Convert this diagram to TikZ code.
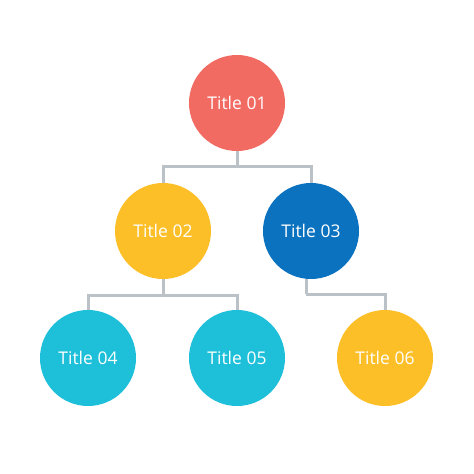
\documentclass[tikz,border=0pt]{standalone}
\usepackage{fontspec}
\setmainfont{Open Sans}
\definecolor{cred}{HTML}{F26B63}
\definecolor{cyel}{HTML}{FDBF28}
\definecolor{cblue}{HTML}{0B72BF}
\definecolor{ccyan}{HTML}{1DBFD9}
\definecolor{cline}{HTML}{BAC1C7}
\tikzset{
  bubble/.style={circle, minimum size=96pt, inner sep=0pt, text=white, font=\fontsize{17.5}{20}\selectfont},
  link/.style={draw=cline, line width=3pt}
}
\begin{document}
\begin{tikzpicture}[x=1pt,y=-1pt]
\useasboundingbox[fill=white] (0,0) rectangle (474,474);
\node[bubble, fill=cred] (c1) at (237,103) {Title 01};
\node[bubble, fill=cyel] (c2) at (163,231) {Title 02};
\node[bubble, fill=cblue] (c3) at (311,231) {Title 03};
\node[bubble, fill=ccyan] (c4) at (88,358) {Title 04};
\node[bubble, fill=ccyan] (c5) at (237,358) {Title 05};
\node[bubble, fill=cyel] (c6) at (385,358) {Title 06};
\draw[link] (c1.south) -- ++(0,15) coordinate (j1);
\draw[link] (c2.north) |- (j1) -| (c3.north);
\draw[link] (c2.south) -- ++(0,16) coordinate (j2);
\draw[link] (c4.north) |- (j2) -| (c5.north);
\draw[link] ([xshift=-5pt]c3.south) -- ++(0,15) coordinate (j3);
\draw[link] (j3) -| (c6.north);
\end{tikzpicture}
\end{document}
